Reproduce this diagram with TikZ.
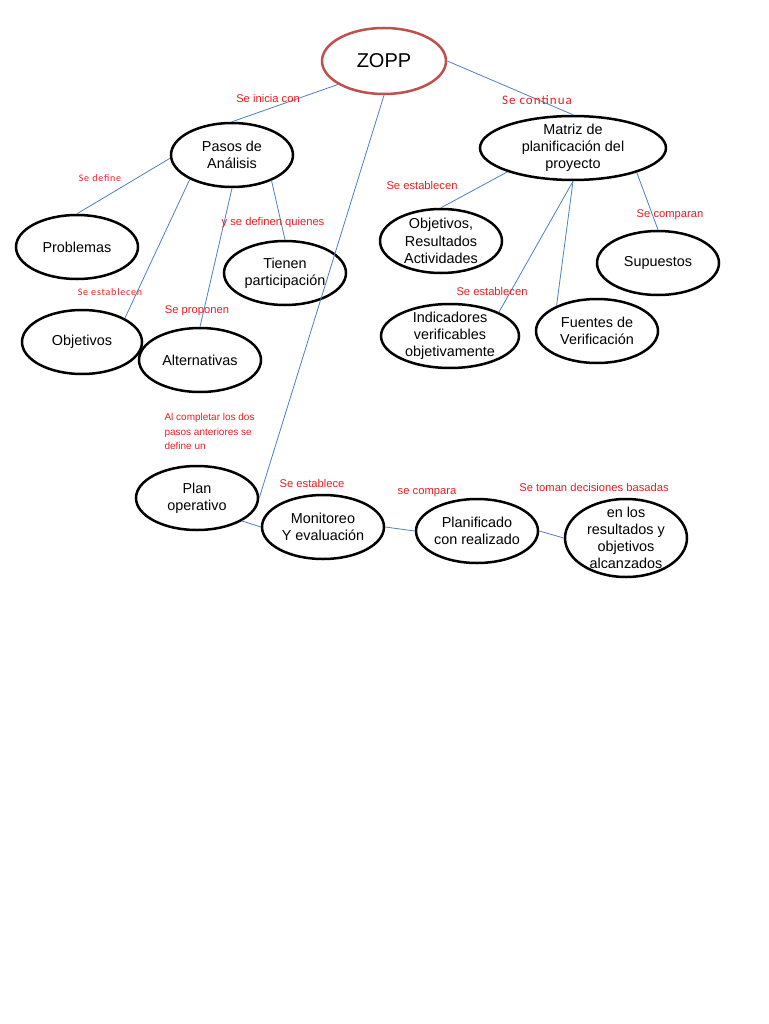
\documentclass[tikz,border=0pt]{standalone}
\usepackage{fontspec}
\setmainfont{Liberation Sans}
\newfontfamily\calib[LetterSpace=8]{Carlito}
\usetikzlibrary{shapes.geometric}
\definecolor{linkblue}{RGB}{79,129,189}
\definecolor{labelred}{RGB}{235,30,35}
\definecolor{rootred}{RGB}{192,80,77}

\begin{document}
\begin{tikzpicture}[x=1pt,y=-1pt,
    bubble/.style={ellipse, draw, line width=2.5pt, inner sep=0pt, minimum width=122pt, minimum height=64pt, align=center, font=\fontsize{14.4}{17.2}\selectfont},
    link/.style={linkblue, line width=0.8pt},
    tag/.style={labelred, font=\fontsize{11.2}{13}\selectfont},
    tagc/.style={labelred, font=\calib\fontsize{10}{12}\selectfont}]
            \fill[white] (0,0) rectangle (768,1024);
            \useasboundingbox (0,0) rectangle (768,1024);

            % root
            \node[bubble, draw=rootred, minimum width=124pt, minimum height=66pt, font=\fontsize{20}{24}\selectfont] (zopp) at (384,61) {ZOPP};

            % left branch
            \node[bubble] (pasos) at (232,155) {Pasos de\\Análisis};
            \node[bubble] (problemas) at (77,247) {Problemas};
            \node[bubble] (tienen) at (285,273) {Tienen\\participación};
            \node[bubble, minimum width=120pt] (objetivos) at (82,342) {Objetivos};
            \node[bubble] (alternativas) at (200,360) {Alternativas};

            % right branch
            \node[bubble, minimum width=186pt, inner ysep=-3pt] (matriz) at (573,148) {Matriz de\\planificación del\\proyecto};
            \node[bubble, inner ysep=-3pt] (objres) at (441,241) {Objetivos,\\Resultados\\Actividades};
            \node[bubble] (supuestos) at (658,263) {Supuestos};
            \node[bubble, minimum width=138pt, inner ysep=-3pt] (indicadores) at (450,336) {Indicadores\\verificables\\objetivamente};
            \node[bubble] (fuentes) at (597,331) {Fuentes de\\Verificación};

            % bottom row
            \node[bubble] (plan) at (197,498) {Plan\\operativo};
            \node[bubble] (monitoreo) at (323,527) {Monitoreo\\Y evaluación};
            \node[bubble] (planificado) at (477,531) {Planificado\\con realizado};
            \node[bubble, minimum height=78pt, inner ysep=-6pt] (decision) at (626,538) {en los\\resultados y\\objetivos\\alcanzados};

            \draw[link] (zopp.207) -- (pasos.north);
            \draw[link] (zopp.east) -- (matriz.north);
            \draw[link] (zopp.south) -- (plan.east);
            \draw[link] (pasos.183) -- (problemas.north);
            \draw[link] (pasos.210) -- (objetivos.29);
            \draw[link] (pasos.south) -- (alternativas.north);
            \draw[link] (pasos.327) -- (tienen.north);
            \draw[link] (matriz.200) -- (objres.north);
            \draw[link] (matriz.south) -- (indicadores.26);
            \draw[link] (matriz.south) -- (fuentes.148);
            \draw[link] (matriz.339) -- (supuestos.north);
            \draw[link] (plan.333) -- (monitoreo.west);
            \draw[link] (monitoreo.east) -- (planificado.west);
            \draw[link] (planificado.east) -- (decision.west);

            % labels
            \node[tag] (iniciaLbl) at (268,98) {Se inicia con};
            \node[tagc] (defineLbl) at (100,178) {Se define};
            \node[tagc] (establecenLbl) at (110,292) {Se establecen};
            \node[tag] (quienesLbl) at (273,223) {y se definen quienes};
            \node[tag] (proponenLbl) at (197,311) {Se proponen};
            \node[tagc, font=\calib\fontsize{13}{15}\selectfont] (continuaLbl) at (537,100) {Se continua};
            \node[tag] (establecenLblb) at (422,185) {Se establecen};
            \node[tag] (comparanLbl) at (670,215) {Se comparan};
            \node[tag] (establecenLblc) at (492,291) {Se establecen};
            \node[tag, align=left, anchor=north west, font=\fontsize{10}{14.5}\selectfont] (completarLbl) at (161,410) {Al completar los dos\\pasos anteriores se\\define un};
            \node[tag] (estableceLbl) at (312,483) {Se establece};
            \node[tag] (comparaLbl) at (427,493) {se compara};
            \node[tag] (decisionesLbl) at (594,487) {Se toman decisiones basadas};
            \end{tikzpicture}
\end{document}
